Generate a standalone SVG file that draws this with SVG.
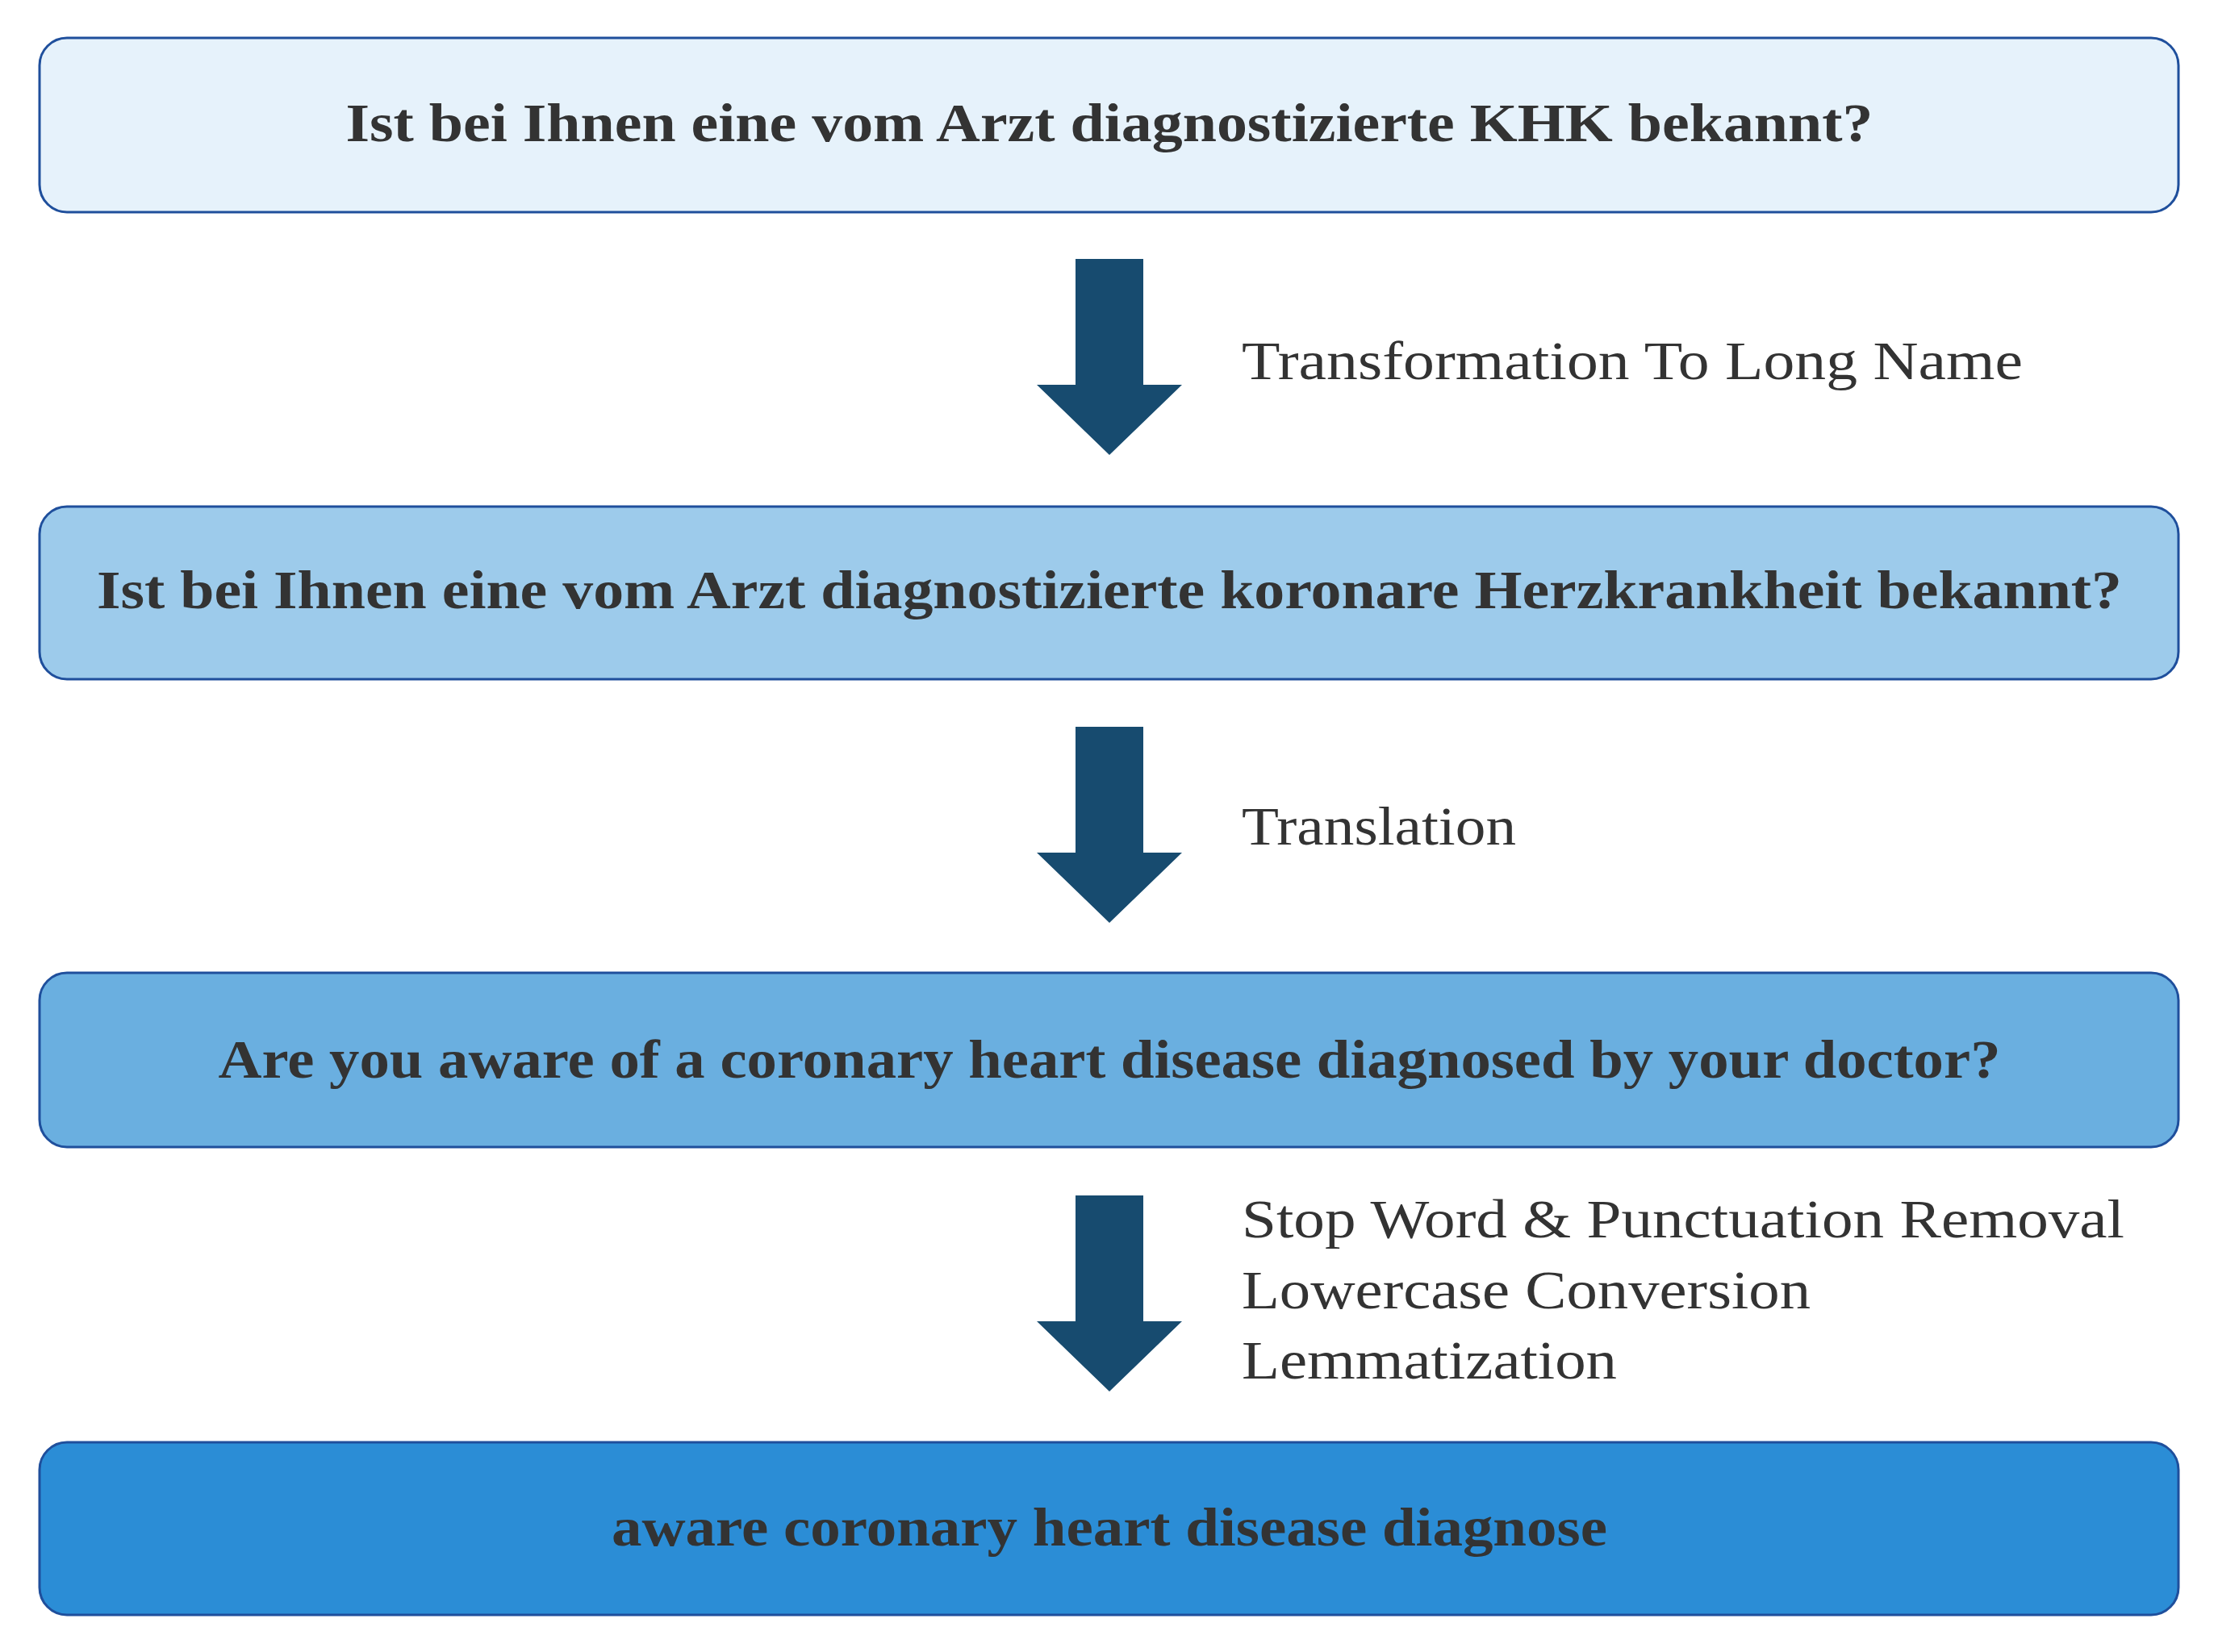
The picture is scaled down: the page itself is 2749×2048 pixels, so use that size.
<svg xmlns="http://www.w3.org/2000/svg" width="2749" height="2048" viewBox="0 0 2749 2048">
<style>
.box{stroke:#1f4f9c;stroke-width:3}
.bt{font-family:"Liberation Serif",serif;font-weight:bold;font-size:68px;fill:#333;text-anchor:middle}
.lb{font-family:"Liberation Serif",serif;font-size:68px;fill:#333}
.ar{fill:#174b6f}
</style>
<defs><path id="arr" d="M-42,0 H42 V156 H90 L0,243 L-90,156 H-42 Z"/></defs>
<rect width="2749" height="2048" fill="#fff"/>
<g id="n1"><rect class="box" x="49" y="47" width="2651" height="216" rx="34" fill="#e6f2fb"/><text class="bt" x="1375" y="175" textLength="1893" lengthAdjust="spacingAndGlyphs">Ist bei Ihnen eine vom Arzt diagnostizierte  KHK bekannt?</text></g>
<g id="n2"><rect class="box" x="49" y="628" width="2651" height="214" rx="34" fill="#9dcbeb"/><text class="bt" x="1375" y="754" textLength="2510" lengthAdjust="spacingAndGlyphs">Ist bei Ihnen eine vom Arzt diagnostizierte  koronare Herzkrankheit bekannt?</text></g>
<g id="n3"><rect class="box" x="49" y="1206" width="2651" height="216" rx="34" fill="#6aafe0"/><text class="bt" x="1375" y="1336" textLength="2209" lengthAdjust="spacingAndGlyphs">Are you aware of a coronary heart disease diagnosed  by your doctor?</text></g>
<g id="n4"><rect class="box" x="49" y="1788" width="2651" height="214" rx="34" fill="#2b8dd6"/><text class="bt" x="1375" y="1916" textLength="1234" lengthAdjust="spacingAndGlyphs">aware coronary heart disease diagnose</text></g>
<g id="connectors">
<use href="#arr" class="ar" x="1375" y="321"/>
<use href="#arr" class="ar" x="1375" y="901"/>
<use href="#arr" class="ar" x="1375" y="1482"/>
<text class="lb" x="1539" y="470" textLength="968" lengthAdjust="spacingAndGlyphs">Transformation  To Long Name</text>
<text class="lb" x="1539" y="1047" textLength="340" lengthAdjust="spacingAndGlyphs">Translation</text>
<text class="lb" x="1539" y="1534" textLength="1094" lengthAdjust="spacingAndGlyphs">Stop Word  &amp; Punctuation Removal</text>
<text class="lb" x="1539" y="1622" textLength="705" lengthAdjust="spacingAndGlyphs">Lowercase Conversion</text>
<text class="lb" x="1539" y="1709" textLength="465" lengthAdjust="spacingAndGlyphs">Lemmatization</text>
</g>
</svg>
